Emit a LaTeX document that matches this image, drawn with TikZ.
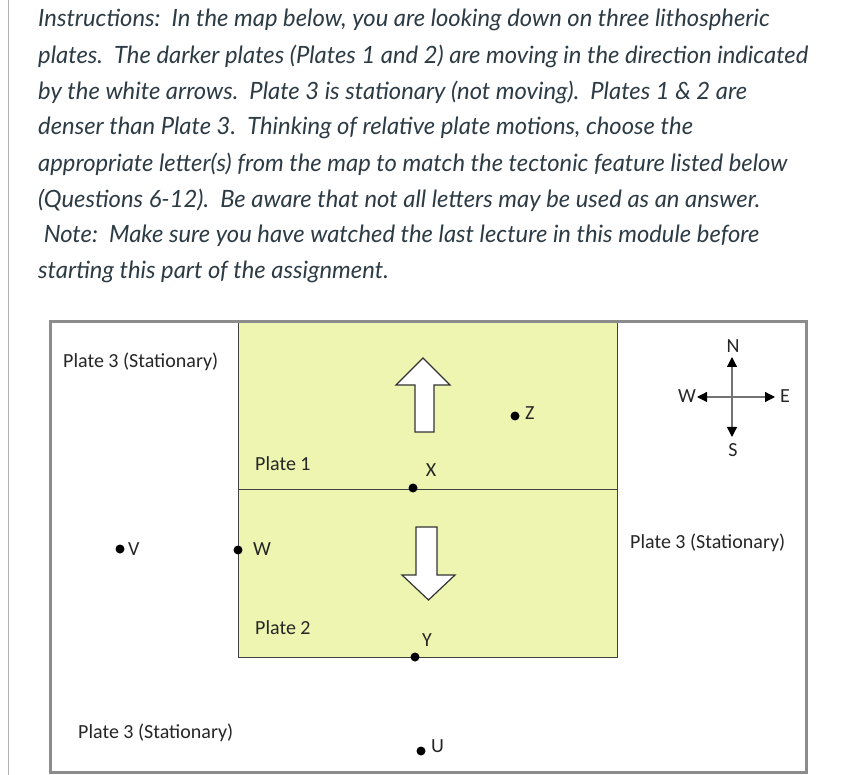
\documentclass[tikz,border=0pt]{standalone}
\usepackage{fontspec}
\setmainfont{Lato}
\newfontfamily\lab{Carlito}
\usetikzlibrary{arrows.meta}
\definecolor{plate}{HTML}{EEF5B0}
\definecolor{txt}{HTML}{2D3B45}
\begin{document}
\begin{tikzpicture}[x=1pt,y=-1pt,
  instr/.style={anchor=west,inner sep=0,text=txt,font=\fontsize{23.8}{26}\selectfont\itshape},
  lbl/.style={inner sep=0,text=black!85,font=\lab\fontsize{20}{22}\selectfont},
  dotn/.style={circle,fill=black,inner sep=0,minimum size=9pt},
  bigarrow/.style={draw=black!80,fill=white,line width=1.2pt},
  carr/.style={black!55,line width=1.2pt,-{Triangle[black,length=10pt,width=10pt]}}]
\useasboundingbox (0,0) rectangle (841,775);
\fill[white] (0,0) rectangle (841,775);
\draw[black!30,line width=1pt] (8,0) -- (8,775);
\foreach \t [count=\i] in {
 {Instructions:\ \ In the map below, you are looking down on three lithospheric},
 {plates.\ \ The darker plates (Plates 1 and 2) are moving in the direction indicated},
 {by the white arrows.\ \ Plate 3 is stationary (not moving).\ \ Plates 1 \& 2 are},
 {denser than Plate 3.\ \ Thinking of relative plate motions, choose the},
 {appropriate letter(s) from the map to match the tectonic feature listed below},
 {(Questions 6-12).\ \ Be aware that not all letters may be used as an answer.},
 {\ Note:\ \ Make sure you have watched the last lecture in this module before},
 {starting this part of the assignment.}}
 \node[instr] (l\i) at (38,{20+36*(\i-1)}) {\t};
% map
\draw[black!45,line width=3pt] (50,322) rectangle (806,772);
\draw[fill=plate,draw=black!75,line width=1pt] (238,322) rectangle (617,657);
\draw[black!75,line width=1pt] (238,489) -- (617,489);
\draw[black!45,line width=3pt] (50,322) -- (806,322);
% arrows
\draw[bigarrow] (415,432) -- (415,385) -- (396,385) -- (423,358) -- (450,385) -- (434,385) -- (434,432) -- cycle;
\draw[bigarrow] (416,527) -- (416,575) -- (402,575) -- (428.5,600) -- (455,575) -- (437,575) -- (437,527) -- cycle;
% dots
\node[dotn] (Z) at (515,416) {}; \node[lbl,anchor=west] at (525,413) {Z};
\node[dotn] (X) at (413,488) {}; \node[lbl] at (431,470) {X};
\node[dotn] (W) at (238,550) {}; \node[lbl,anchor=west] at (253,549) {W};
\node[dotn] (V) at (120,549) {}; \node[lbl,anchor=west] at (128,549) {V};
\node[dotn] (Y) at (415,657) {}; \node[lbl] at (427,640) {Y};
\node[dotn] (U) at (421,751) {}; \node[lbl,anchor=west] at (431,746) {U};
% labels
\node[lbl,anchor=west] at (63,362) {Plate 3 (Stationary)};
\node[lbl,anchor=west] at (255,464) {Plate 1};
\node[lbl,anchor=west] at (255,628) {Plate 2};
\node[lbl,anchor=west] at (630,543) {Plate 3 (Stationary)};
\node[lbl,anchor=west] at (78,733) {Plate 3 (Stationary)};
% compass
\coordinate (c) at (732,397);
\draw[carr] (c) -- (732,357);
\draw[carr] (c) -- (732,437);
\draw[carr] (c) -- (697,397);
\draw[carr] (c) -- (775,397);
\node[lbl] at (733,346) {N};
\node[lbl] at (733,450) {S};
\node[lbl] at (687,396) {W};
\node[lbl] at (785,396) {E};
\end{tikzpicture}
\end{document}
